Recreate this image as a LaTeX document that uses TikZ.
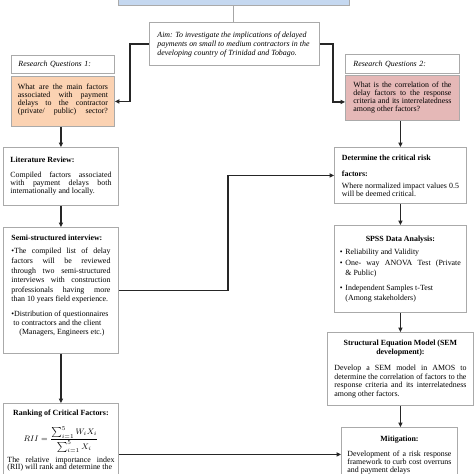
\documentclass[tikz,border=0pt]{standalone}
\usepackage{fontspec}
\setmainfont{Liberation Serif}
\usetikzlibrary{arrows.meta,shadows}
\definecolor{qorange}{RGB}{251,210,178}
\definecolor{qpink}{RGB}{229,184,183}
\definecolor{qblue}{RGB}{197,216,240}
\definecolor{bordergray}{RGB}{170,170,170}
\newcommand{\bx}[4]{\begin{minipage}[c][#2][t]{#1}\vspace*{#3}#4\end{minipage}}
\newcommand{\fs}[1]{\fontsize{7.9}{#1}\selectfont}
\begin{document}
\begin{tikzpicture}[x=1pt,y=-1pt,
  panel/.style={draw=bordergray, line width=0.9pt, fill=white, anchor=north west, inner ysep=0pt,
    drop shadow={shadow xshift=0.9pt, shadow yshift=-0.9pt, opacity=0.25}},
  conn/.style={draw=black!85, line width=1.3pt, -{Triangle[length=4.5pt,width=4.2pt]}},
  link/.style={draw=black!35, line width=1pt}]
\useasboundingbox (0,0) rectangle (474,474);

\node[draw=bordergray, line width=0.9pt, fill=qblue, anchor=north west, minimum width=231pt, minimum height=15pt, inner sep=0pt] (top) at (118,-10) {};

\node[panel, inner xsep=8pt] (aim) at (149,22) {\bx{154pt}{43pt}{9.9pt}{\fs{8.6}\itshape\raggedright Aim: To investigate the implications of delayed\\ payments on small to medium contractors in the\\ developing country of Trinidad and Tobago.}};

\node[panel, minimum width=103pt, minimum height=18pt, inner xsep=7pt, text width=89pt, align=left, font=\fs{9}\itshape] (rq1lab) at (11,55) {Research Questions 1:};
\node[panel, minimum width=114pt, minimum height=19pt, inner xsep=8pt, text width=98pt, align=left, font=\fs{9}\itshape] (rq2lab) at (345,54) {Research Questions 2:};

\node[panel, fill=qorange, inner xsep=6.5pt] (rq1) at (11,76) {\bx{90pt}{50pt}{7.9pt}{\fs{7.8}\parfillskip=0pt What are the main factors\linebreak associated with payment\linebreak delays to the contractor\linebreak (private/ public) sector?}};

\node[panel, fill=qpink, inner xsep=8pt] (rq2) at (345,75) {\bx{98pt}{45pt}{6.9pt}{\fs{7.7}What is the correlation of the\linebreak delay factors to the response\linebreak criteria and its interrelatedness\linebreak among other factors?}};

\node[panel, inner xsep=7pt] (lit) at (3,147) {\bx{101pt}{58pt}{9.9pt}{\fs{8}\textbf{Literature Review:}\par\vspace{6.8pt}Compiled factors associated\linebreak with payment delays both\linebreak internationally and locally.}};

\node[panel, inner xsep=8pt] (semi) at (3,227) {\bx{99pt}{126pt}{7.4pt}{\fs{9.6}\textbf{Semi-structured interview:}\par\vspace{4pt}\textbullet The compiled list of delay\linebreak factors will be reviewed\linebreak through two semi-structured\linebreak interviews with construction\linebreak professionals having more\linebreak than 10 years field experience.\par\vspace{6pt}\fs{8.8}\textbullet Distribution of questionnaires\\\hspace*{2pt}to contractors and the client\\\hspace*{8pt}(Managers, Engineers etc.)}};

\node[panel, inner xsep=7.5pt] (det) at (334,147) {\bx{117pt}{56pt}{7.9pt}{\fs{8}\textbf{Determine the critical risk}\\[7.8pt]\textbf{factors:}\par\vspace{3.8pt}Where normalized impact values 0.5\linebreak will be deemed critical.}};

\node[panel, inner xsep=5.5pt] (spss) at (334,225) {\bx{121pt}{87pt}{10.9pt}{\fs{10.5}{\centering\textbf{SPSS Data Analysis:}\par}\vspace{2.5pt}\hangindent=5.5pt\makebox[5.5pt][l]{\textbullet}Reliability and Validity\par\hangindent=5.5pt\makebox[5.5pt][l]{\textbullet}One- way ANOVA Test (Private\linebreak \& Public)\par\vspace{5.5pt}\fs{9.5}\hangindent=5.5pt\makebox[5.5pt][l]{\textbullet}Independent Samples t-Test\\(Among stakeholders)}};

\node[panel, inner xsep=7pt] (sem) at (327,332) {\bx{132pt}{73pt}{7.9pt}{\fs{9}{\centering\textbf{Structural Equation Model (SEM\\development):}\par}\vspace{7pt}\fs{8.7}Develop a SEM model in AMOS to\linebreak determine the correlation of factors to the\linebreak response criteria and its interrelatedness\linebreak among other factors.}};

\node[panel, inner xsep=6pt] (mit) at (341,427) {\bx{104pt}{54pt}{8.9pt}{\fs{8}{\centering\textbf{Mitigation:}\par}\vspace{6.8pt}Development of a risk response\linebreak framework to curb cost overruns\linebreak and payment delays}};

\node[panel, inner xsep=4pt] (rank) at (3,403) {\bx{107pt}{102pt}{6.9pt}{\fs{7.5}{\centering\textbf{Ranking of Critical Factors:}\par}\vspace{7.5pt}{\centering$\displaystyle RII = \frac{\textstyle\sum\nolimits_{i=1}^{5} W_iX_i}{\textstyle\sum\nolimits_{i=1}^{5} X_i}$\par}\vspace{3pt}The relative importance index\linebreak (RII) will rank and determine the}};

\draw[link] (top.south) -- (top.south |- aim.north);
\draw[conn] (aim.west) -- ++(-19,0) |- (rq1.east);
\draw[conn] (aim.east) -- ++(13,0) |- ([yshift=-4pt]rq2.west);
\draw[conn] (lit.north |- rq1.south) -- (lit.north);
\draw[conn] (lit.south) -- (semi.north);
\draw[conn] (semi.south) -- (rank.north);
\draw[conn] (semi.east) -- ++(109,0) |- (det.west);
\draw[conn] (det.north |- rq2.south) -- (det.north);
\draw[conn] (det.south) -- (spss.north);
\draw[conn] (spss.south) -- (spss.south |- sem.north);
\draw[conn] (sem.south) -- (sem.south |- mit.north);
\draw[conn] (rank.east) -- (mit.west);
\end{tikzpicture}
\end{document}
